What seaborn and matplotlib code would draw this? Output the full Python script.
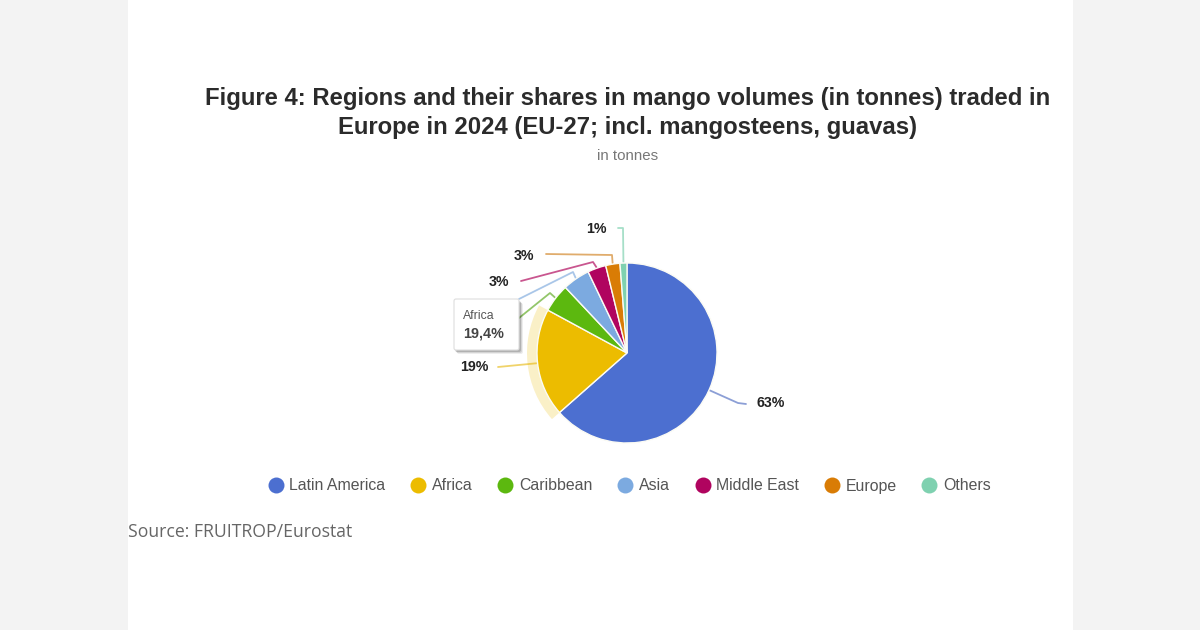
import numpy as np
import matplotlib
matplotlib.use("Agg")
import matplotlib.pyplot as plt
from matplotlib.lines import Line2D
from matplotlib.patches import Wedge, FancyBboxPatch, Rectangle
import seaborn as sns

regions = ["Latin America", "Africa", "Caribbean", "Asia", "Middle East", "Europe", "Others"]
shares = [63.5, 19.4, 5.1, 4.9, 3.3, 2.55, 1.25]
slice_labels = ["63%", "19%", "", "3%", "3%", "3%", "1%"]
colors = ["#4c6fd0", "#ecbc00", "#5cb80f", "#7caae0", "#b0045f", "#d97c05", "#7fd1b0"]
line_colors = ["#8c9fd6", "#f0d36a", "#93c66a", "#a9c6e8", "#c9568f", "#e0ac6c", "#a6dfc8"]
title_lines = ["Figure 4: Regions and their shares in mango volumes (in tonnes) traded in",
               "Europe in 2024 (EU-27; incl. mangosteens, guavas)"]
subtitle = "in tonnes"
source = "Source: FRUITROP/Eurostat"
tip_name = "Africa"
tip_value = "19,4%"

sns.set_theme(style="white")
plt.rcParams["font.family"] = ["Liberation Sans", "DejaVu Sans"]
palette = sns.color_palette(colors)

fig = plt.figure(figsize=(12, 6.3), dpi=100, facecolor="#f3f3f3")
ax = fig.add_axes([0, 0, 1, 1])
Y = lambda py: 630 - py

ax.add_patch(Rectangle((128, 0), 945, 630, fc="white", ec="none", zorder=0))

cx, cy, R = 627, Y(353), 90
wedges, _ = ax.pie(shares, colors=palette, startangle=90, counterclock=False,
                   center=(cx, cy), radius=R, frame=True,
                   wedgeprops=dict(edgecolor="#fbfbf4", linewidth=1.0, zorder=3))

# hover halo around the highlighted slice
w = wedges[regions.index(tip_name)]
ax.add_patch(Wedge((cx, cy), R + 10, w.theta1, w.theta2, width=10,
                   fc=colors[1], ec="none", alpha=0.22, zorder=2))

# leader lines start on the slice's rim and follow an elbow to its label
elbows = {
    0: [(738, 403), (746, 404)],
    1: [(498, 367)],
    2: [(550, 293), (519, 318)],
    3: [(573, 272), (519, 299)],
    4: [(593, 262), (521, 281)],
    5: [(612, 255), (546, 254)],
    6: [(623, 228), (618, 228)],
}
for i, wd in enumerate(wedges):
    a = np.deg2rad((wd.theta1 + wd.theta2) / 2)
    xs = [cx + (R + 1) * np.cos(a)] + [p[0] for p in elbows[i]]
    ys = [cy + (R + 1) * np.sin(a)] + [Y(p[1]) for p in elbows[i]]
    ax.plot(xs, ys, color=line_colors[i], lw=1.3, zorder=1, solid_capstyle="round")

pos = {0: (771, 403), 1: (474, 367), 3: (499, 282), 4: (524, 256), 6: (596, 229)}
for i, (px, py) in pos.items():
    ax.text(px, Y(py), slice_labels[i], ha="center", va="center", fontsize=10.2,
            fontweight="bold", color="#222222", zorder=6)

# tooltip with soft shadow
for off, alpha in [(4, 0.07), (3, 0.10), (2, 0.16)]:
    ax.add_patch(FancyBboxPatch((454 + off - 1, Y(350) - off), 66, 51,
                                boxstyle="round,pad=0,rounding_size=2",
                                fc="black", alpha=alpha, ec="none", zorder=6))
ax.add_patch(FancyBboxPatch((454, Y(350)), 65, 51, boxstyle="round,pad=0,rounding_size=2",
                            fc="white", ec="#dddddd", lw=0.8, zorder=7))
ax.text(463, Y(316), tip_name, ha="left", va="center", fontsize=8.8, color="#555555", zorder=8)
ax.text(463, Y(334), tip_value, ha="left", va="center", fontsize=10.4, fontweight="bold",
        color="#444444", zorder=8)

for line, py in zip(title_lines, (105, 134)):
    ax.text(628, Y(py), line, ha="center", va="baseline", fontsize=17.2, fontweight="bold",
            color="#2b2b2b")
ax.text(628, Y(156), subtitle, ha="center", va="center", fontsize=10.8, color="#777777")
ax.text(128.5, Y(532), source, ha="left", va="center", fontsize=12.7, color="#666666",
        family=["Open Sans", "DejaVu Sans"])

handles = [Line2D([], [], ls="", marker="o", ms=11.5, mfc=c, mec="none") for c in colors]
leg = ax.legend(handles, regions, loc="center", bbox_to_anchor=(628, Y(486)),
                bbox_transform=ax.transData, ncols=len(regions), frameon=False,
                fontsize=11.4, labelcolor="#555555", handletextpad=0.2, columnspacing=1.43,
                handlelength=1.3, borderpad=0, borderaxespad=0)

ax.set_xlim(0, 1200)
ax.set_ylim(0, 630)
ax.set_aspect("equal")
ax.set_axis_off()
fig.savefig("out.png", dpi=100, facecolor=fig.get_facecolor())
